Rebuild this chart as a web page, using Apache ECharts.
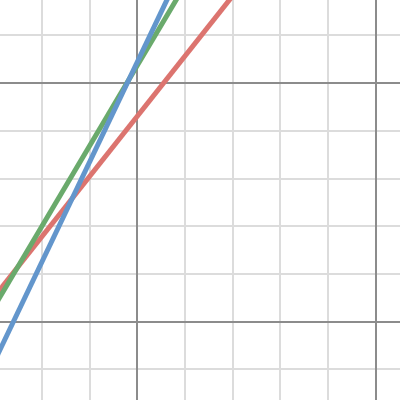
<!DOCTYPE html>
<html>
<head>
<meta charset="utf-8">
<style>
  html, body { margin: 0; padding: 0; background: #fff; }
  #chart { width: 400px; height: 400px; }
</style>
<script src="https://cdn.jsdelivr.net/npm/echarts@6/dist/echarts.min.js"></script>
</head>
<body>
<div id="chart"></div>
<script>
// x positions where each line is sampled (both ends go past the visible area)
var xs = [-3, 2];
// y values at those x positions
var redY = [-4.49, 1.82];
var greenY = [-4.70, 3.73];
var blueY = [-5.86, 4.62];

// grid lines (one unit apart, darker every 5 units)
var minorX = [-2, -1, 1, 2, 3, 4];
var majorX = [0, 5];
var minorY = [1, -1, -2, -3, -4, -6];
var majorY = [0, -5];

function pairs(ys) {
  return xs.map(function (x, i) { return [x, ys[i]]; });
}

function gridLines(vx, vy, color, z) {
  var data = [];
  vx.forEach(function (v) { data.push({ xAxis: v }); });
  vy.forEach(function (v) { data.push({ yAxis: v }); });
  return {
    type: 'line',
    data: [],
    z: z,
    markLine: {
      silent: true,
      z: z,
      symbol: 'none',
      label: { show: false },
      lineStyle: { color: color, width: 2, type: 'solid' },
      data: data
    }
  };
}

var chart = echarts.init(document.getElementById('chart'), null, { renderer: 'canvas' });

var plainAxis = {
  type: 'value',
  axisLine: { show: false },
  axisTick: { show: false },
  axisLabel: { show: false },
  splitLine: { show: false }
};

var option = {
  animation: false,
  backgroundColor: '#ffffff',
  grid: { left: 0, right: 0, top: 0, bottom: 0 },
  xAxis: Object.assign({ min: -2.874, max: 5.512 }, plainAxis),
  yAxis: Object.assign({ min: -6.648, max: 1.738 }, plainAxis),
  series: [
    gridLines(minorX, minorY, '#dcdcdc', 0),
    gridLines(majorX, majorY, '#8c8c8c', 1),
    {
      name: 'red',
      type: 'line',
      data: pairs(redY),
      showSymbol: false,
      lineStyle: { color: '#dc746f', width: 5 },
      z: 2
    },
    {
      name: 'green',
      type: 'line',
      data: pairs(greenY),
      showSymbol: false,
      lineStyle: { color: '#6aaa6c', width: 5 },
      z: 3
    },
    {
      name: 'blue',
      type: 'line',
      data: pairs(blueY),
      showSymbol: false,
      lineStyle: { color: '#6396cc', width: 5 },
      z: 4
    }
  ]
};

chart.setOption(option);
</script>
</body>
</html>
